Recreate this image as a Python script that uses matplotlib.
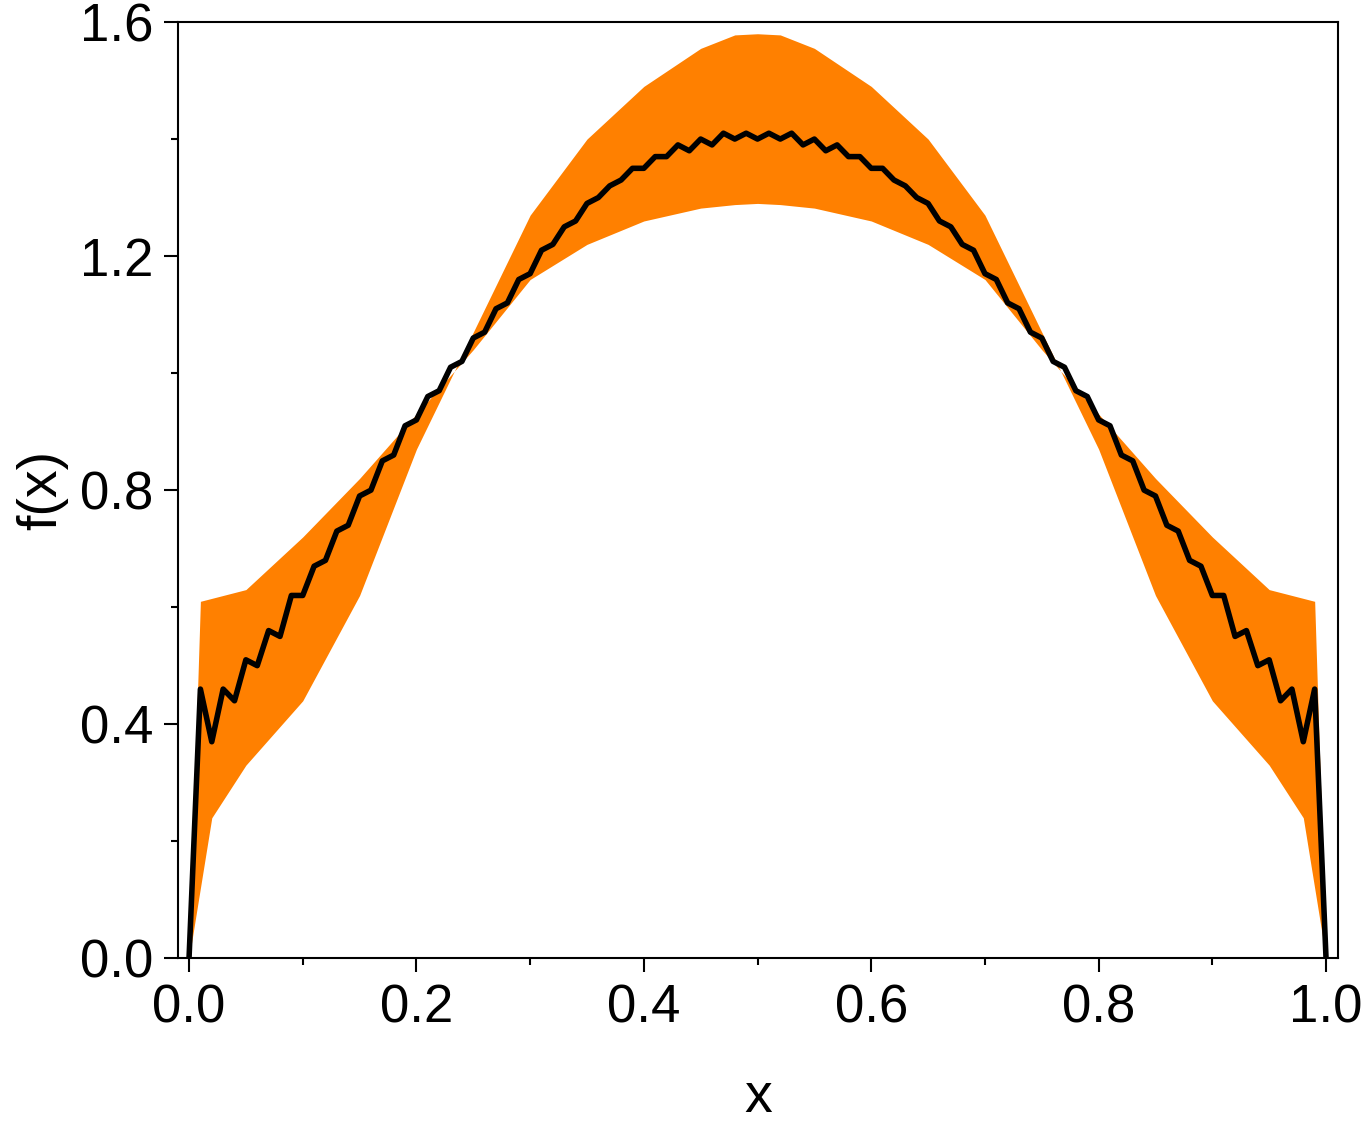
import numpy as np
import matplotlib.pyplot as plt

plt.rcParams['font.family'] = ['Liberation Sans', 'DejaVu Sans']

# black curve, sampled at x step 0.01
x_line = np.linspace(0, 1, 101)
left = [0.00, 0.46, 0.37, 0.46, 0.44, 0.51, 0.50, 0.56, 0.55, 0.62,
        0.62, 0.67, 0.68, 0.73, 0.74, 0.79, 0.80, 0.85, 0.86, 0.91,
        0.92, 0.96, 0.97, 1.01, 1.02, 1.06, 1.07, 1.11, 1.12, 1.16,
        1.17, 1.21, 1.22, 1.25, 1.26, 1.29, 1.30, 1.32, 1.33, 1.35,
        1.35, 1.37, 1.37, 1.39, 1.38, 1.40, 1.39, 1.41, 1.40, 1.41, 1.40]
right = [1.41, 1.40, 1.41, 1.39, 1.40, 1.38, 1.39, 1.37, 1.37, 1.35,
         1.35, 1.33, 1.32, 1.30, 1.29, 1.26, 1.25, 1.22, 1.21, 1.17,
         1.16, 1.12, 1.11, 1.07, 1.06, 1.02, 1.01, 0.97, 0.96, 0.92,
         0.91, 0.86, 0.85, 0.80, 0.79, 0.74, 0.73, 0.68, 0.67, 0.62,
         0.62, 0.55, 0.56, 0.50, 0.51, 0.44, 0.46, 0.37, 0.46, 0.00]
y_line = left + right

# orange band edges
x_band = [0.0, 0.01, 0.02, 0.05, 0.10, 0.15, 0.20, 0.25, 0.30, 0.35, 0.40, 0.45, 0.48, 0.50,
          0.52, 0.55, 0.60, 0.65, 0.70, 0.75, 0.80, 0.85, 0.90, 0.95, 0.98, 0.99, 1.0]
band_a = [0.0, 0.61, 0.615, 0.63, 0.72, 0.82, 0.93, 1.04, 1.16, 1.22, 1.26, 1.282, 1.288, 1.29,
          1.288, 1.282, 1.26, 1.22, 1.16, 1.04, 0.93, 0.82, 0.72, 0.63, 0.615, 0.61, 0.0]
band_b = [0.0, 0.12, 0.24, 0.33, 0.44, 0.62, 0.87, 1.07, 1.27, 1.40, 1.49, 1.555, 1.578, 1.58,
          1.578, 1.555, 1.49, 1.40, 1.27, 1.07, 0.87, 0.62, 0.44, 0.33, 0.24, 0.12, 0.0]

fig = plt.figure(figsize=(13.64, 11.3), dpi=100)
ax = fig.add_axes([0.1305, 0.152, 0.8505, 0.8285])
ax.fill_between(x_band, band_a, band_b, color='#FF8000', linewidth=0)
ax.plot(x_line, y_line, color='black', lw=4, solid_joinstyle='round')

ax.set_xlim(-0.0097, 1.0106)
ax.set_ylim(0, 1.6)
ax.set_xticks([0, 0.2, 0.4, 0.6, 0.8, 1.0])
ax.set_xticks(np.arange(0.1, 1.0, 0.2), minor=True)
ax.set_yticks([0, 0.4, 0.8, 1.2, 1.6])
ax.set_yticks(np.arange(0.2, 1.6, 0.4), minor=True)
ax.set_xticklabels(['0.0', '0.2', '0.4', '0.6', '0.8', '1.0'])
ax.set_yticklabels(['0.0', '0.4', '0.8', '1.2', '1.6'])
ax.tick_params(which='major', length=10, width=1.5, labelsize=38, pad=8)
ax.tick_params(which='minor', length=5, width=1.5)
for s in ax.spines.values():
    s.set_linewidth(1.5)
ax.set_xlabel('x', fontsize=40, labelpad=28)
ax.set_ylabel('f(x)', fontsize=40, labelpad=8)

fig.savefig('out.png', dpi=100)
